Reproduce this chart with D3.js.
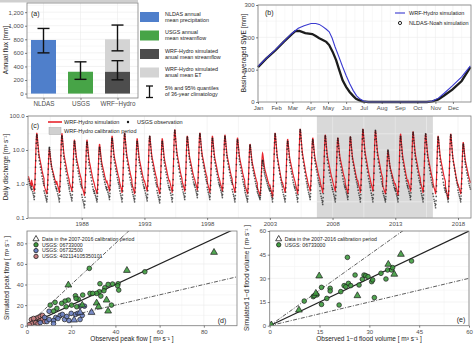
<!DOCTYPE html>
<html>
<head>
<meta charset="utf-8">
<script src="https://cdn.jsdelivr.net/npm/d3@7"></script>
<style>
  body { margin: 0; background: #fff; }
  text { font-family: "Liberation Sans", Arial, sans-serif; }
</style>
</head>
<body>
<svg id="fig" width="474" height="344"></svg>
<script>
// ---------- panel (a) data ----------
const fluxCategories = ["NLDAS", "USGS", "WRF\u2212Hydro"];
const fluxBase = [790, 322, 325];          // precip, usgs flow, wrf flow
const fluxEt = [0, 0, 475];                // wrf ET stacked on the flow
const fluxColors = ["#4f7fcb", "#47a447", "#4d4d4d"];
const quantCat = [0, 1, 2, 2];
const quantLow = [600, 210, 203, 630];
const quantHigh = [960, 468, 485, 1010];
const fluxTicks = [0, 200, 400, 600, 800, 1000, 1200];

// ---------- panel (b) data ----------
const monthNames = ["Jan", "Feb", "Mar", "Apr", "May", "Jun", "Jul", "Aug", "Sep", "Oct", "Nov", "Dec"];
const monthStart = [1, 32, 60, 91, 121, 152, 182, 213, 244, 274, 305, 335];
const wrfSweDoy = [1, 15, 31, 45, 59, 70, 80, 92, 100, 106, 112, 118, 123, 128, 133, 140, 146, 152, 158, 164, 170, 176, 182, 190, 290, 300, 310, 320, 334, 350, 365];
const wrfSwe = [110, 135, 162, 187, 212, 228, 236, 243, 243, 240, 233, 225, 217, 198, 171, 138, 109, 82, 57, 36, 19, 9, 3, 0, 0, 3, 12, 27, 50, 78, 112];
const noahSweDoy = [1, 15, 31, 45, 59, 65, 72, 82, 94, 100, 106, 112, 118, 123, 129, 135, 140, 146, 152, 158, 164, 169, 175, 180, 190, 290, 300, 310, 320, 334, 350, 365];
const noahSwe = [108, 134, 160, 186, 210, 219, 220, 213, 210, 204, 197, 192, 186, 176, 155, 129, 100, 67, 47, 31, 19, 10, 5, 2, 0, 0, 2, 8, 20, 38, 65, 108];

// ---------- panel (c) data ----------
const hydroYears = d3.range(1984, 2019);
const simPeak = [32, 10, 31, 20, 20, 15, 26, 32, 22, 26, 22, 40, 26, 32, 26, 28, 23, 15, 8, 32, 21, 42, 23, 28, 23, 25, 42, 37, 9, 30, 35, 30, 26, 30, 17];
const obsPeak = [28, 12, 26, 18, 17, 12, 22, 30, 18, 25, 18, 38, 24, 30, 22, 25, 20, 14, 5, 30, 18, 40, 20, 26, 22, 24, 40, 38, 10, 25, 33, 30, 24, 28, 15];
const simLow = [0.6, 0.5, 0.55, 0.6, 0.45, 0.5, 0.6, 0.55, 0.5, 0.6, 0.5, 0.55, 0.6, 0.65, 0.55, 0.6, 0.55, 0.5, 0.45, 0.4, 0.55, 0.5, 0.6, 0.55, 0.6, 0.5, 0.55, 0.6, 0.5, 0.45, 0.6, 0.55, 0.5, 0.35, 0.5];
const obsLow = [0.35, 0.3, 0.3, 0.32, 0.2, 0.3, 0.35, 0.3, 0.3, 0.32, 0.28, 0.3, 0.35, 0.4, 0.35, 0.4, 0.3, 0.3, 0.35, 0.3, 0.3, 0.3, 0.35, 0.25, 0.3, 0.35, 0.3, 0.3, 0.3, 0.3, 0.35, 0.3, 0.2, 0.3, 0.3];
// seasonal shape of the hydrograph (fraction between winter low and spring peak, log space)
const hydroProfileDoy = [0, 15, 32, 46, 60, 70, 79, 86, 92, 97, 102, 107, 112, 117, 122, 127, 132, 137, 142, 147, 152, 158, 164, 170, 176, 182, 190, 198, 206, 214, 227, 244, 260, 274, 290, 305, 320, 335, 350, 364];
const hydroProfileFrac = [0.2, 0.16, 0.12, 0.09, 0.06, 0.03, 0, 0.05, 0.1, 0.16, 0.23, 0.31, 0.4, 0.5, 0.6, 0.7, 0.79, 0.87, 0.93, 0.97, 1.0, 0.99, 0.96, 0.92, 0.88, 0.84, 0.79, 0.74, 0.69, 0.65, 0.6, 0.55, 0.5, 0.46, 0.41, 0.36, 0.32, 0.28, 0.25, 0.22];
const calibStart = new Date(2006, 9, 1), calibEnd = new Date(2016, 0, 1);
const yearTicks = [1988, 1993, 1998, 2003, 2008, 2013, 2018];
const dischargeTicks = [0.1, 1, 10, 100];

// ---------- panel (d) data [observed, simulated] ----------
const peak06733000 = [[28.2, 55.7], [53.3, 52.4], [33, 40.8], [36.7, 40.1], [38.7, 40.5], [41.2, 40.8], [41, 38.8], [41.5, 34.6], [35.2, 36.9], [34.8, 34], [32.7, 33], [31.5, 31.4], [33.4, 28.8], [28.5, 31.4], [29.7, 31.4], [25.2, 29.8], [23.2, 25.9], [21.9, 29.1], [22.2, 26.5], [18.7, 24.9], [17.2, 23.9], [15.7, 21.7], [20.2, 20], [17.7, 18.4], [22.5, 18.4], [13.5, 16.8], [12.7, 22.7], [10.5, 20], [12, 14.2], [38.2, 20]];
const peak06732500 = [[10, 14], [15, 10], [13, 8], [20, 12], [22, 11], [24, 19], [26, 19], [25, 10], [17, 6], [12, 5], [9, 4], [8, 8], [18, 9], [14, 7], [23, 12], [6, 3], [10, 6], [12, 2], [24, 6], [16, 11], [19, 5]];
const peak402114 = [[2, 6], [3, 4], [4, 7], [5, 8], [6, 9], [7, 10], [4, 3], [6, 5], [2, 2], [5, 2], [7, 6], [3, 7], [8, 4], [1, 1]];
const peakCalib06733000 = [[84.6, 71.2], [45.2, 53.7], [18.7, 39.5], [31.5, 22], [36, 24.9], [32.4, 18.4], [36.7, 14.2], [25, 20]];
const peakCalib06732500 = [[21.3, 5.5], [24, 12.9], [29.2, 12.9]];
const peakTicks = [0, 20, 40, 60, 80];

// ---------- panel (e) data ----------
const vol06733000 = [[42.7, 41], [35.5, 35.3], [36.7, 35.3], [37, 36.8], [35, 29.6], [33.5, 33.2], [23.4, 43.3], [28.4, 32.1], [28.9, 31.7], [29.6, 31.1], [27.9, 29.4], [25.7, 32.1], [30.7, 27.9], [31, 29], [26.9, 25.8], [23.7, 26.8], [22.4, 25.4], [22.9, 24.7], [24.4, 25.4], [31.5, 17.8], [21.4, 21.6], [20.9, 13.1], [15.6, 24.3], [18.2, 23.7], [18.2, 22], [17.2, 17.3], [15.6, 13.5], [14.2, 19.5], [13.1, 18.4], [13.4, 19], [10.4, 15.6]];
const volCalib06733000 = [[39.5, 45.2], [35.7, 38.9], [37.5, 32.6], [14.9, 31.5], [26.4, 19], [8.8, 9.9], [13.9, 20.5], [0.5, 0.5]];
const volTicks = [0, 15, 30, 45, 60];

const gaugeColors = {g1: "#3f9c3f", g2: "#6a80c2", g3: "#c97f82"};

const svg = d3.select("#fig");
const GRID = "#ebebeb", GRID_MINOR = "#f4f4f4", BORDER = "#7f7f7f";

function styleAxis(g, fs) {
  g.select(".domain").remove();
  g.selectAll(".tick line").attr("stroke", "#333").attr("stroke-width", 0.6);
  g.selectAll(".tick text").attr("fill", "#4d4d4d").style("font-size", fs + "px");
}
function hLines(g, ys, x0, x1, color) {
  g.selectAll(null).data(ys).join("line")
    .attr("x1", x0).attr("x2", x1).attr("y1", d => d).attr("y2", d => d)
    .attr("stroke", color).attr("stroke-width", 0.6);
}
function vLines(g, xs, y0, y1, color) {
  g.selectAll(null).data(xs).join("line")
    .attr("y1", y0).attr("y2", y1).attr("x1", d => d).attr("x2", d => d)
    .attr("stroke", color).attr("stroke-width", 0.6);
}
function frame(g, x0, x1, y0, y1) {
  g.append("rect").attr("x", x0).attr("y", y0).attr("width", x1 - x0).attr("height", y1 - y0)
    .attr("fill", "none").attr("stroke", BORDER).attr("stroke-width", 0.8);
}
function yTitle(x, y, txt) {
  svg.append("text").attr("transform", `translate(${x},${y}) rotate(-90)`)
    .attr("text-anchor", "middle").style("font-size", "6.5px").attr("fill", "#222").text(txt);
}
function label(x, y, txt, fs, anchor) {
  return svg.append("text").attr("x", x).attr("y", y).attr("text-anchor", anchor || "start")
    .style("font-size", fs + "px").attr("fill", "#222").text(txt);
}

// =============== (a) ===============
const ga = svg.append("g");
const xa = d3.scalePoint().domain(fluxCategories).range([43.5, 117.5]);
const ya = d3.scaleLinear().domain([-65, 1335]).range([98, 3]);
ga.append("rect").attr("x", 0).attr("y", 0).attr("width", 138).attr("height", 2.5).attr("fill", "#cfcfcf");
hLines(ga, [100, 300, 500, 700, 900, 1100, 1300].map(ya), 27, 138, GRID_MINOR);
hLines(ga, fluxTicks.map(ya), 27, 138, GRID);
vLines(ga, fluxCategories.map(xa), 3, 98, GRID);
ga.selectAll(".bar").data(fluxCategories).join("rect")
  .attr("x", d => xa(d) - 12.5).attr("width", 25)
  .attr("y", (d, i) => ya(fluxBase[i])).attr("height", (d, i) => ya(0) - ya(fluxBase[i]))
  .attr("fill", (d, i) => fluxColors[i]);
ga.selectAll(".et").data(fluxCategories.filter((d, i) => fluxEt[i] > 0)).join("rect")
  .attr("x", d => xa(d) - 12.5).attr("width", 25)
  .attr("y", d => ya(fluxBase[2] + fluxEt[2])).attr("height", d => ya(fluxBase[2]) - ya(fluxBase[2] + fluxEt[2]))
  .attr("fill", "#d4d4d4");
const eb = ga.selectAll(".eb").data(quantCat).join("g");
eb.append("line").attr("x1", d => xa(fluxCategories[d])).attr("x2", d => xa(fluxCategories[d]))
  .attr("y1", (d, i) => ya(quantLow[i])).attr("y2", (d, i) => ya(quantHigh[i]));
eb.append("line").attr("x1", d => xa(fluxCategories[d]) - 6).attr("x2", d => xa(fluxCategories[d]) + 6)
  .attr("y1", (d, i) => ya(quantLow[i])).attr("y2", (d, i) => ya(quantLow[i]));
eb.append("line").attr("x1", d => xa(fluxCategories[d]) - 6).attr("x2", d => xa(fluxCategories[d]) + 6)
  .attr("y1", (d, i) => ya(quantHigh[i])).attr("y2", (d, i) => ya(quantHigh[i]));
eb.selectAll("line").attr("stroke", "#111").attr("stroke-width", 1.4);
frame(ga, 27, 138, 3, 98);
ga.append("g").attr("transform", "translate(27,0)")
  .call(d3.axisLeft(ya).tickValues(fluxTicks).tickSize(2).tickPadding(1.5)).call(g => styleAxis(g, 6));
ga.append("g").attr("transform", "translate(0,98)")
  .call(d3.axisBottom(xa).tickSize(2).tickPadding(2)).call(g => styleAxis(g, 6.3));
yTitle(8, 50, "Annual flux [mm]");
label(31, 16, "(a)", 7);

// legend (a)
const legA = [
  {fill: fluxColors[0], l1: "NLDAS annual", l2: "mean precipitation"},
  {fill: fluxColors[1], l1: "USGS annual", l2: "mean streamflow"},
  {fill: fluxColors[2], l1: "WRF-Hydro simulated", l2: "anual mean streamflow"},
  {fill: "#d4d4d4", l1: "WRF-Hydro simulated", l2: "anual mean ET"}
];
legA.forEach((d, i) => {
  const y = 12 + i * 18.5;
  svg.append("rect").attr("x", 140).attr("y", y).attr("width", 19).attr("height", 10).attr("fill", d.fill);
  label(165, y + 3.5, d.l1, 5.4);
  label(165, y + 9.5, d.l2, 5.4);
});
svg.append("g").attr("stroke", "#111").attr("stroke-width", 1.3).call(g => {
  g.append("line").attr("x1", 149.5).attr("x2", 149.5).attr("y1", 86).attr("y2", 97.5);
  g.append("line").attr("x1", 146).attr("x2", 153).attr("y1", 86).attr("y2", 86);
  g.append("line").attr("x1", 146).attr("x2", 153).attr("y1", 97.5).attr("y2", 97.5);
});
label(165, 89.5, "5% and 95% quantiles", 5.4);
label(165, 95.5, "of 36-year climatology", 5.4);

// =============== (b) ===============
const gb = svg.append("g");
const xb = d3.scaleLinear().domain([1, 366]).range([258, 471]);
const yb = d3.scaleLinear().domain([0, 300]).range([102, 5]);
hLines(gb, [50, 150, 250].map(yb), 258, 471, GRID_MINOR);
vLines(gb, monthStart.map(d => xb(d + 15)), 5, 102, GRID_MINOR);
hLines(gb, [0, 100, 200, 300].map(yb), 258, 471, GRID);
vLines(gb, monthStart.map(xb), 5, 102, GRID);
const lineB = d3.line().x(d => xb(d[0])).y(d => yb(d[1]));
gb.append("path").attr("d", lineB(noahSweDoy.map((d, i) => [d, noahSwe[i]])))
  .attr("fill", "none").attr("stroke", "#1c1c1c").attr("stroke-width", 2.3);
gb.append("path").attr("d", lineB(wrfSweDoy.map((d, i) => [d, wrfSwe[i]])))
  .attr("fill", "none").attr("stroke", "#3a3ad0").attr("stroke-width", 1.1);
frame(gb, 258, 471, 5, 102);
gb.append("g").attr("transform", "translate(258,0)")
  .call(d3.axisLeft(yb).tickValues([0, 100, 200, 300]).tickSize(2).tickPadding(1.5)).call(g => styleAxis(g, 6));
gb.append("g").attr("transform", "translate(0,102)")
  .call(d3.axisBottom(xb).tickValues(monthStart).tickFormat((d, i) => monthNames[i]).tickSize(2).tickPadding(2))
  .call(g => styleAxis(g, 6));
yTitle(246, 53, "Basin-averaged SWE [mm]");
label(265, 15, "(b)", 7);
svg.append("line").attr("x1", 395).attr("x2", 405).attr("y1", 13).attr("y2", 13).attr("stroke", "#3a3ad0").attr("stroke-width", 1.1);
label(409, 15, "WRF-Hydro simulation", 5.5);
svg.append("circle").attr("cx", 400).attr("cy", 23).attr("r", 1.6).attr("fill", "none").attr("stroke", "#111").attr("stroke-width", 0.9);
label(409, 25, "NLDAS-Noah simulation", 5.5);

// =============== (c) ===============
const gc = svg.append("g");
const xc = d3.scaleTime().domain([new Date(1983, 8, 20), new Date(2019, 0, 15)]).range([28, 471]);
const yc = d3.scaleLog().domain([0.1, 100]).range([218, 116]);
const doyDate = (y, d) => new Date(y, 0, 1 + d);
function hydroSeries(peaks, lows, prePeak, preLow) {
  const out = [];
  hydroProfileDoy.forEach((d, j) => {
    if (d >= 270) out.push({t: doyDate(1983, d), v: preLow * Math.pow(prePeak / preLow, hydroProfileFrac[j])});
  });
  hydroYears.forEach((y, i) => {
    hydroProfileDoy.forEach((d, j) => {
      out.push({t: doyDate(y, d), v: lows[i] * Math.pow(peaks[i] / lows[i], hydroProfileFrac[j])});
    });
  });
  return out;
}
const simSeries = hydroSeries(simPeak, simLow, 8, 0.45);
const obsSeries = hydroSeries(obsPeak, obsLow, 7, 0.35);
gc.append("rect").attr("x", xc(calibStart)).attr("width", xc(calibEnd) - xc(calibStart))
  .attr("y", 116).attr("height", 102).attr("fill", "#d9d9d9");
vLines(gc, yearTicks.map(y => xc(new Date(y + 2, 6, 1))).concat([xc(new Date(1985, 6, 1))]), 116, 218, "#f0f0f0");
hLines(gc, [0.3, 3, 30].map(yc), 28, 471, "#f0f0f0");
hLines(gc, dischargeTicks.map(yc), 28, 471, GRID);
vLines(gc, yearTicks.map(y => xc(new Date(y, 0, 1))), 116, 218, GRID);
gc.append("path").attr("d", d3.line().x(d => xc(d.t)).y(d => yc(d.v))(simSeries))
  .attr("fill", "none").attr("stroke", "#e8262e").attr("stroke-width", 1.2);
gc.selectAll(".obs").data(obsSeries).join("circle")
  .attr("cx", d => xc(d.t)).attr("cy", d => yc(d.v)).attr("r", 0.85)
  .attr("fill", "#1a1a1a").attr("opacity", 0.7);
frame(gc, 28, 471, 116, 218);
gc.append("g").attr("transform", "translate(28,0)")
  .call(d3.axisLeft(yc).tickValues(dischargeTicks).tickFormat(d3.format(".1f")).tickSize(2).tickPadding(1.5))
  .call(g => styleAxis(g, 6));
gc.append("g").attr("transform", "translate(0,218)")
  .call(d3.axisBottom(xc).tickValues(yearTicks.map(y => new Date(y, 0, 1))).tickFormat(d3.timeFormat("%Y")).tickSize(2).tickPadding(2))
  .call(g => styleAxis(g, 6));
yTitle(8, 167, "Daily discharge [m\u00b3 s\u207b\u00b9]");
label(31, 128, "(c)", 7);
svg.append("line").attr("x1", 48).attr("x2", 62).attr("y1", 122).attr("y2", 122).attr("stroke", "#e8262e").attr("stroke-width", 1.6);
label(64, 124, "WRF-Hydro simulation", 5.5);
svg.append("circle").attr("cx", 128).attr("cy", 122).attr("r", 1.2).attr("fill", "#1a1a1a");
label(137, 124, "USGS observation", 5.5);
svg.append("rect").attr("x", 49).attr("y", 127.5).attr("width", 12).attr("height", 7).attr("fill", "#d0d0d0").attr("stroke", "#999").attr("stroke-width", 0.4);
label(64, 133, "WRF-Hydro calibration period", 5.5);

// =============== scatter panels ===============
function scatterPanel(opt) {
  const g = svg.append("g");
  const x = d3.scaleLinear().domain(opt.xDom).range([opt.x0, opt.x1]);
  const y = d3.scaleLinear().domain(opt.yDom).range([opt.y1, opt.y0]);
  const minorX = opt.ticks.slice(0, -1).map((t, i) => (t + opt.ticks[i + 1]) / 2);
  hLines(g, minorX.map(y), opt.x0, opt.x1, GRID_MINOR);
  vLines(g, minorX.map(x), opt.y0, opt.y1, GRID_MINOR);
  hLines(g, opt.ticks.map(y), opt.x0, opt.x1, GRID);
  vLines(g, opt.ticks.map(x), opt.y0, opt.y1, GRID);
  const clipId = "clip" + opt.id;
  svg.append("clipPath").attr("id", clipId).append("rect")
    .attr("x", opt.x0).attr("y", opt.y0).attr("width", opt.x1 - opt.x0).attr("height", opt.y1 - opt.y0);
  const lines = g.append("g").attr("clip-path", `url(#${clipId})`);
  const far = 200;
  lines.append("line").attr("x1", x(0)).attr("y1", y(0)).attr("x2", x(far)).attr("y2", y(far))
    .attr("stroke", "#222").attr("stroke-width", 1.2);
  opt.slopes.forEach(s => {
    lines.append("line").attr("x1", x(0)).attr("y1", y(0)).attr("x2", x(far)).attr("y2", y(far * s))
      .attr("stroke", "#333").attr("stroke-width", 0.8).attr("stroke-dasharray", "4,1.5,1,1.5");
  });
  opt.groups.forEach(gr => {
    const sym = d3.symbol().type(gr.tri ? d3.symbolTriangle : d3.symbolCircle).size(gr.tri ? 20 : 17);
    lines.selectAll(null).data(gr.data).join("path")
      .attr("d", sym).attr("transform", d => `translate(${x(d[0])},${y(d[1])})`)
      .attr("fill", gr.color).attr("fill-opacity", 0.9).attr("stroke", "#1e1e1e").attr("stroke-width", 0.7);
  });
  frame(g, opt.x0, opt.x1, opt.y0, opt.y1);
  g.append("g").attr("transform", `translate(${opt.x0},0)`)
    .call(d3.axisLeft(y).tickValues(opt.ticks).tickSize(2).tickPadding(1.5)).call(a => styleAxis(a, 6));
  g.append("g").attr("transform", `translate(0,${opt.y1})`)
    .call(d3.axisBottom(x).tickValues(opt.ticks).tickSize(2).tickPadding(2)).call(a => styleAxis(a, 6));
  // legend
  opt.legend.forEach((d, i) => {
    const ly = opt.y0 + 8 + i * 5.8;
    const sym = d3.symbol().type(d.tri ? d3.symbolTriangle : d3.symbolCircle).size(d.tri ? 16 : 15);
    svg.append("path").attr("d", sym).attr("transform", `translate(${opt.x0 + 9},${ly})`)
      .attr("fill", d.color).attr("stroke", "#1e1e1e").attr("stroke-width", 0.8);
    label(opt.x0 + 15, ly + 1.8, d.text, 5.2);
  });
  return {x, y};
}

scatterPanel({
  id: "d", x0: 27, x1: 237, y0: 231, y1: 325.7, xDom: [0, 95], yDom: [0, 92], ticks: peakTicks,
  slopes: [2, 0.5],
  groups: [
    {data: peak402114, color: gaugeColors.g3},
    {data: peak06732500, color: gaugeColors.g2},
    {data: peak06733000, color: gaugeColors.g1},
    {data: peakCalib06732500, color: gaugeColors.g2, tri: true},
    {data: peakCalib06733000, color: gaugeColors.g1, tri: true}
  ],
  legend: [
    {tri: true, color: "none", text: "Data in the 2007-2016 calibration period"},
    {color: gaugeColors.g1, text: "USGS: 06733000"},
    {color: gaugeColors.g2, text: "USGS: 06732500"},
    {color: gaugeColors.g3, text: "USGS: 402114105350101"}
  ]
});
label(222, 323, "(d)", 7, "middle");
yTitle(9, 278, "Simulated peak flow [ m\u00b3 s\u207b\u00b9 ]");
label(132, 341, "Observed peak flow [ m\u00b3 s\u207b\u00b9 ]", 6.5, "middle");

scatterPanel({
  id: "e", x0: 269.7, x1: 469, y0: 231, y1: 325.7, xDom: [0, 60], yDom: [0, 60], ticks: volTicks,
  slopes: [1.5, 0.5],
  groups: [
    {data: vol06733000, color: gaugeColors.g1},
    {data: volCalib06733000, color: gaugeColors.g1, tri: true}
  ],
  legend: [
    {tri: true, color: "none", text: "Data in the 2007-2016 calibration period"},
    {color: gaugeColors.g1, text: "USGS: 06733000"}
  ]
});
label(461, 322, "(e)", 7, "middle");
yTitle(249, 278, "Simulated 1\u2212d flood volume [ m\u00b3 s\u207b\u00b9 ]");
label(369, 341, "Observed 1\u2212d flood volume [ m\u00b3 s\u207b\u00b9 ]", 6.5, "middle");
</script>
</body>
</html>
